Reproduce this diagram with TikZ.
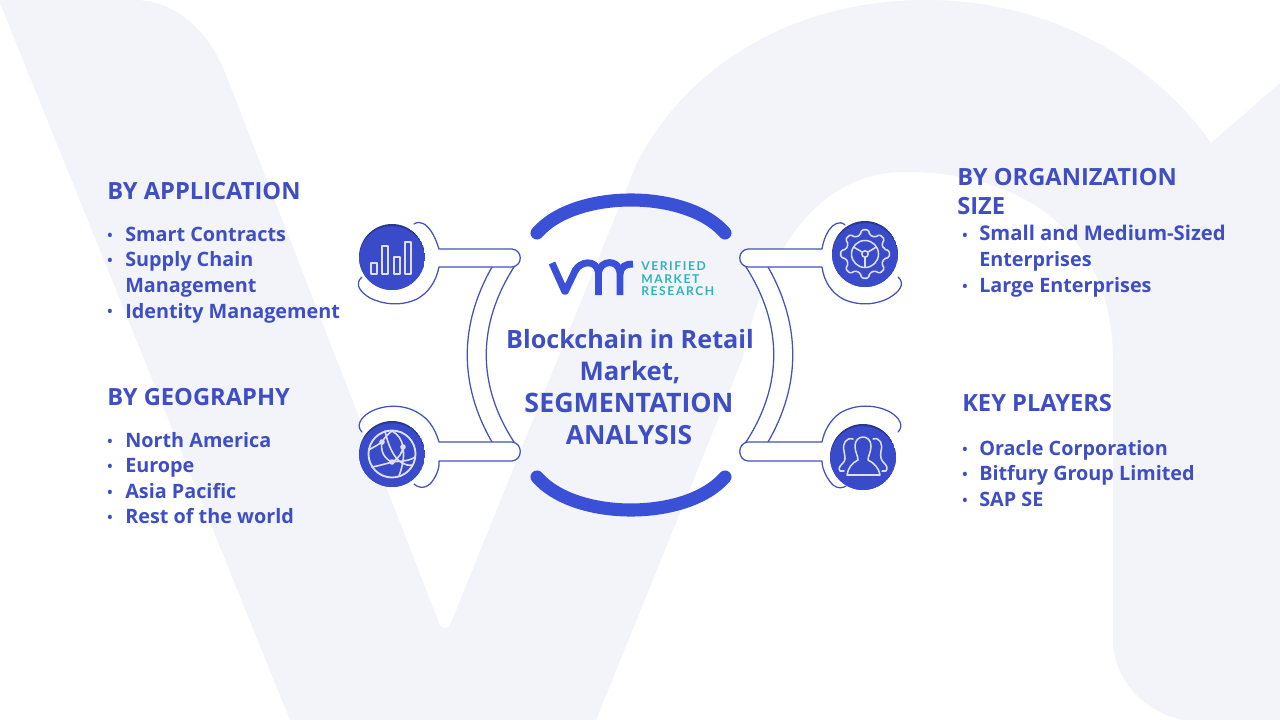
\documentclass[tikz,border=0pt]{standalone}
\usepackage{fontspec}
\setmainfont{Open Sans}
\newfontfamily\logofont[LetterSpace=13]{Lato}
\definecolor{bgpale}{HTML}{F2F4FA}
\definecolor{inkblue}{HTML}{3E4EC3}
\definecolor{disc}{HTML}{3A4BC9}
\definecolor{discdark}{HTML}{2B3893}
\definecolor{arcblue}{HTML}{3A50D6}
\definecolor{linkblue}{HTML}{4452BC}
\definecolor{iconline}{HTML}{DDE0F2}
\definecolor{teal}{HTML}{2DB3BC}
\newcommand{\sized}[1]{\fontsize{#1}{#1}\selectfont\bfseries}
\tikzset{
  hd/.style={anchor=base west,inner sep=0pt,text=inkblue,font=\sized{17.75}},
  itm/.style={anchor=base west,inner sep=0pt,text=inkblue,font=\sized{14.85}},
  itmwide/.style={itm,font=\sized{15.2}},
  dotmark/.style={anchor=base,inner sep=0pt,text=inkblue,font=\sized{10.5}},
  ttl/.style={anchor=base,inner sep=0pt,text=inkblue},
  lg/.style={anchor=base west,inner sep=0pt,text=teal,font=\fontsize{9.1}{10}\selectfont\logofont\bfseries},
  linkline/.style={draw=linkblue,line width=0.95pt,line cap=round,line join=round},
  icon/.style={draw=iconline,line width=1.15pt,line join=round,line cap=round},
  bigarc/.style={draw=arcblue,line width=9.8pt,line cap=round},
}
\newcommand{\discat}[3]{% name, x, y
  \begin{scope}
    \clip (#2,#3) circle (33);
    \fill[discdark] (#2,#3) circle (33);
    \fill[disc] (#2,#3+2.2) circle (33);
  \end{scope}
  \coordinate (#1) at (#2,#3);
}
\begin{document}
\begin{tikzpicture}[x=0.75pt,y=-0.75pt]
\useasboundingbox (0,0) rectangle (1280,720);
\fill[white] (0,0) rectangle (1280,720);
% background letters
\fill[bgpale] (0,3) -- (290,720) -- (596,720) -- (742,360)
  .. controls (762,265) and (810,172) .. (905,172)
  .. controls (1030,172) and (1113,240) .. (1113,360)
  -- (1113,640) .. controls (1113,680) and (1145,712) .. (1183,720)
  -- (1280,720) -- (1280,83) -- (1211,143)
  .. controls (1160,70) and (1060,0) .. (926,0)
  .. controls (800,0) and (690,60) .. (637,163)
  -- (451,623) .. controls (449,630) and (441,630) .. (439,623)
  -- (224,70) .. controls (205,25) and (170,0) .. (135,0)
  -- (0,0) -- cycle;
% channels
\fill[white] (514,267) .. controls (477,325) and (477,385) .. (514,442)
  -- (492,442) .. controls (459,385) and (459,325) .. (492,267) -- cycle;
\draw[linkline] (514,267) .. controls (477,325) and (477,385) .. (514,442);
\draw[linkline] (492,442) .. controls (459,385) and (459,325) .. (492,267);
\fill[white] (746,267) .. controls (783,325) and (783,385) .. (746,442)
  -- (768,442) .. controls (801,385) and (801,325) .. (768,267) -- cycle;
\draw[linkline] (746,267) .. controls (783,325) and (783,385) .. (746,442);
\draw[linkline] (768,442) .. controls (801,385) and (801,325) .. (768,267);
% top-left holder
\def\pa{(414,224) .. controls (420,220) and (426,224) .. (431,231)
  .. controls (435,237) and (437,243) .. (439,249) -- (512,249)
  .. controls (523,250) and (523,266) .. (512,267) -- (439,267)
  .. controls (436,282) and (428,293) .. (417,299)
  .. controls (400,307) and (382,304) .. (370,298)
  .. controls (360,292) and (354,284) .. (362,277)}
\fill[white] \pa -- cycle; \draw[linkline] \pa;
% bottom-left holder
\def\pb{(362,432) .. controls (356,426) and (360,418) .. (370,412)
  .. controls (385,404) and (405,404) .. (420,414)
  .. controls (431,421) and (436,432) .. (439,442) -- (512,442)
  .. controls (523,443) and (523,460) .. (512,461) -- (439,461)
  .. controls (440,470) and (434,480) .. (430,484)
  .. controls (425,489) and (418,488) .. (414,484)}
\fill[white] \pb -- cycle; \draw[linkline] \pb;
% top-right holder
\def\pc{(845,225) .. controls (840,220) and (833,224) .. (829,230)
  .. controls (825,236) and (823,243) .. (822,249) -- (748,249)
  .. controls (737,250) and (737,266) .. (748,267) -- (822,267)
  .. controls (824,282) and (832,293) .. (843,299)
  .. controls (860,307) and (878,304) .. (889,298)
  .. controls (899,292) and (906,284) .. (898,277)}
\fill[white] \pc -- cycle; \draw[linkline] \pc;
% bottom-right holder
\def\pd{(898,432) .. controls (904,426) and (900,418) .. (890,412)
  .. controls (875,404) and (855,404) .. (840,413)
  .. controls (829,421) and (824,432) .. (822,442) -- (748,442)
  .. controls (737,443) and (737,460) .. (748,461) -- (822,461)
  .. controls (822,470) and (828,480) .. (833,485)
  .. controls (838,489) and (843,488) .. (846,486)}
\fill[white] \pd -- cycle; \draw[linkline] \pd;
% big arcs
\draw[bigarc] (537,233) .. controls (575,189) and (687,189) .. (725,233);
\draw[bigarc] (537,477) .. controls (575,521) and (687,521) .. (725,477);
% discs
\discat{dA}{392}{257}
\discat{dB}{392}{454}
\discat{dC}{865}{254}
\discat{dD}{863}{457}
% bars icon
\draw[icon] (371,263) rectangle (377,274);
\draw[icon] (382,246) rectangle (388,274);
\draw[icon] (394,257) rectangle (400,274);
\draw[icon] (405,242) rectangle (411,274);
% globe icon
\draw[icon,line width=1.4pt] (392,454) circle (23.5);
\draw[icon,line width=1.2pt]
  (368.5,450) .. controls (372,448) and (378,445) .. (382,442)
  .. controls (385,437) and (388,434) .. (392,431)
  (382,442) .. controls (380,452) and (385,459) .. (392,462)
  (392,462) .. controls (400,458) and (402,452) .. (403,447)
  (392,431) .. controls (398,434) and (402,440) .. (403,447)
  (385,431) .. controls (388,445) and (396,468) .. (413,465)
  (372,467) .. controls (378,466) and (385,464) .. (392,462)
  (392,462) .. controls (398,461) and (408,462) .. (415,457)
  (403,447) .. controls (404,455) and (404,462) .. (399,476);
\fill[iconline] (382,442) circle (2.8) (403,447) circle (2.8) (392,462) circle (2.8);
% gear icon
\begin{scope}[shift={(865,254)}]
\draw[icon,rounded corners=1.2pt] (-14:19.5)
  \foreach \a in {0,45,...,315} {
    -- (\a-14:19.5) -- (\a-8:24.5) -- (\a+8:24.5) -- (\a+14:19.5)
  } -- cycle;
\draw[icon] (0,0) circle (13.5);
\draw[icon] (0,0) circle (3.2);
\draw[icon] (-3,-2) -- (-11.5,-7) (3,-2) -- (11.5,-7) (0,3.5) -- (0,13);
\end{scope}
% people icon
\draw[icon] (847,475) .. controls (848,468) and (852,463) .. (858,460)
  .. controls (858,456) and (855,452) .. (855,446)
  .. controls (855,434) and (871,434) .. (871,446)
  .. controls (871,452) and (868,456) .. (868,460)
  .. controls (874,463) and (879,468) .. (880,475) -- cycle;
\draw[icon] (853,439) .. controls (846,437) and (842,444) .. (844,451)
  .. controls (845,457) and (846,460) .. (843,463)
  .. controls (840,466) and (838,468) .. (840,471) -- (844,471);
\draw[icon] (873,439) .. controls (880,437) and (883,444) .. (881,451)
  .. controls (880,457) and (881,460) .. (884,463)
  .. controls (887,466) and (888,468) .. (886,471) -- (882,471);
% logo
\draw[arcblue,line width=5.2pt,line join=round,rounded corners=0.6pt] (552,263) -- (565,292) -- (576,269);
\draw[arcblue,line width=5.2pt] (575,271) .. controls (580,261) and (596,259) .. (598.5,272) -- (598.5,295);
\draw[arcblue,line width=5.2pt] (598.5,272) .. controls (601,260) and (618,259) .. (620,272) -- (620,295);
\draw[arcblue,line width=5.2pt] (620,274) .. controls (621,266) and (626,264) .. (633,264);
\node[lg] (lgA) at (641,270.5) {VERIFIED};
\node[lg] (lgB) at (641,283) {MARKET};
\node[lg] (lgC) at (641,295.5) {RESEARCH};
% centre title
\node[ttl,font=\sized{18.9}] (t1) at (630,348) {Blockchain in Retail};
\node[ttl,font=\sized{19.3}] (t2) at (630,380) {Market,};
\node[ttl,font=\sized{20.1}] (t3) at (629,412) {SEGMENTATION};
\node[ttl,font=\sized{19.8}] (t4) at (629,444) {ANALYSIS};
% left top
\node[hd] (h1) at (107,199.5) {BY APPLICATION};
\node[dotmark] (b11) at (110,240) {•};
\node[itm] (i11) at (125,241.5) {Smart Contracts};
\node[dotmark] (b12) at (110,265.5) {•};
\node[itm] (i12) at (125,267) {Supply Chain};
\node[itm] (i12b) at (125,292.5) {Management};
\node[dotmark] (b13) at (110,316.5) {•};
\node[itm] (i13) at (125,318) {Identity Management};
% left bottom
\node[hd] (h2) at (107,405.5) {BY GEOGRAPHY};
\node[dotmark] (b21) at (110,446) {•};
\node[itm] (i21) at (125,447) {North America};
\node[dotmark] (b22) at (110,471.5) {•};
\node[itm] (i22) at (125,472.5) {Europe};
\node[dotmark] (b23) at (110,497) {•};
\node[itm] (i23) at (125,498) {Asia Pacific};
\node[dotmark] (b24) at (110,522) {•};
\node[itm] (i24) at (125,523) {Rest of the world};
% right top
\node[hd] (h3) at (957,185.5) {BY ORGANIZATION};
\node[hd] (h3b) at (957,214.5) {SIZE};
\node[dotmark] (b31) at (965,240) {•};
\node[itmwide] (i31) at (979,241) {Small and Medium-Sized};
\node[itm] (i31b) at (979,266) {Enterprises};
\node[dotmark] (b32) at (965,291) {•};
\node[itm] (i32) at (979,292) {Large Enterprises};
% right bottom
\node[hd] (h4) at (962,411.5) {KEY PLAYERS};
\node[dotmark] (b41) at (965,454) {•};
\node[itm] (i41) at (979,455) {Oracle Corporation};
\node[dotmark] (b42) at (965,479) {•};
\node[itm] (i42) at (979,480) {Bitfury Group Limited};
\node[dotmark] (b43) at (965,505) {•};
\node[itm] (i43) at (979,506) {SAP SE};
\end{tikzpicture}
\end{document}
